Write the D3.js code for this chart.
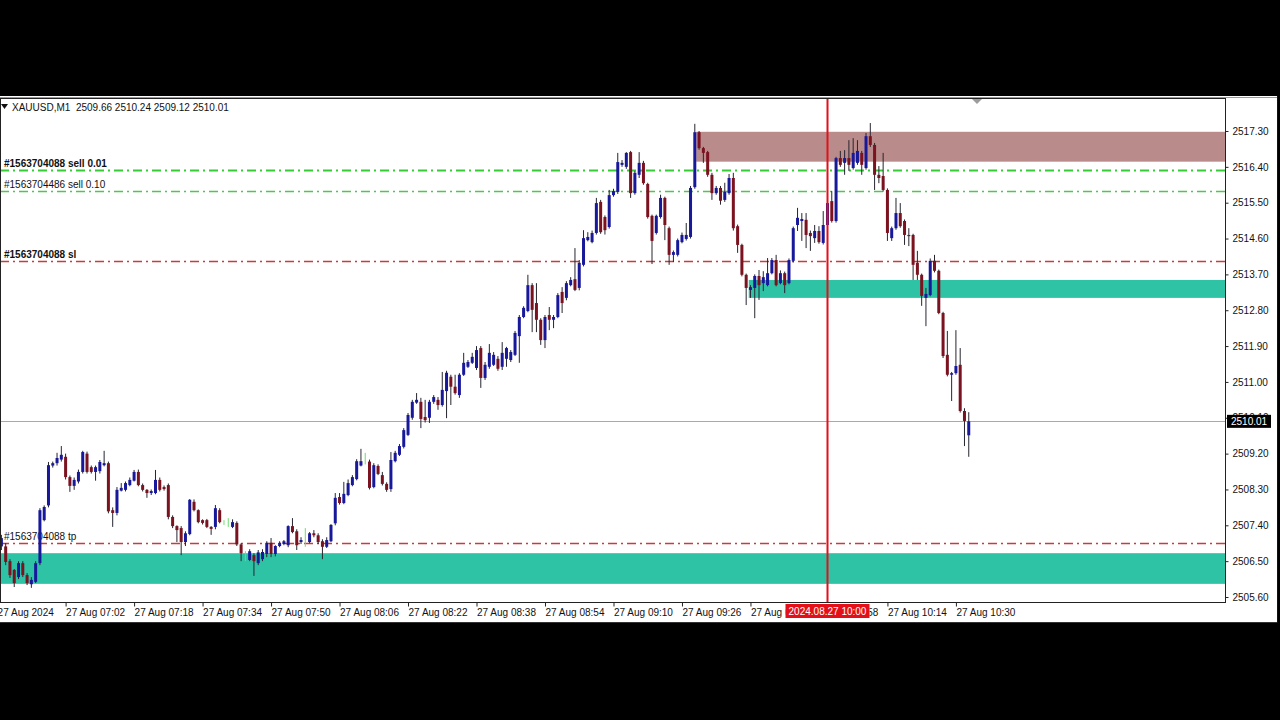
<!DOCTYPE html>
<html><head><meta charset="utf-8">
<script src="https://cdn.jsdelivr.net/npm/d3@7"></script>
<style>html,body{margin:0;padding:0;background:#000;overflow:hidden}svg{display:block}</style>
</head><body><svg id="c" width="1280" height="720"></svg>
<script>
// ---------- DATA ----------
const symbolName = "XAUUSD,M1";
const lastBar = [2509.66, 2510.24, 2509.12, 2510.01]; // O H L C shown in header
const chartDay = "2024-08-27";
const firstBarTime = "06:47";
const opens = [
2506.87,2506.87,2506.50,2506.28,2506.10,2506.45,2506.15,2505.92,2505.98,2506.45,
2507.53,2507.90,2508.90,2508.96,2509.05,2509.12,2508.61,2508.39,2508.50,2508.74,
2509.20,2508.86,2508.74,2508.76,2508.91,2508.96,2507.78,2507.71,2508.27,2508.29,
2508.41,2508.52,2508.74,2508.41,2508.29,2508.21,2508.21,2508.54,2508.36,2508.41,
2507.61,2507.38,2507.33,2506.98,2507.18,2507.99,2507.78,2507.53,2507.53,2507.36,
2507.36,2507.78,2507.48,2507.48,2507.36,2507.46,2506.92,2506.65,2506.53,2506.65,
2506.45,2506.55,2506.68,2506.96,2506.68,2506.88,2506.93,2506.90,2507.38,2507.25,
2506.98,2507.10,2506.98,2507.20,2507.15,2507.00,2506.86,2507.00,2507.45,2508.11,
2507.96,2508.16,2508.41,2508.56,2508.90,2509.00,2509.00,2508.36,2508.89,2508.66,
2508.44,2508.31,2509.01,2509.17,2509.37,2509.67,2510.10,2510.48,2510.50,2510.12,
2510.10,2510.50,2510.55,2510.42,2510.77,2511.13,2510.88,2510.67,2511.18,2511.38,
2511.48,2511.35,2511.85,2511.10,2511.38,2511.43,2511.58,2511.38,2511.58,2511.55,
2511.68,2512.15,2512.63,2512.78,2513.43,2512.98,2512.56,2512.05,2512.68,2512.56,
2512.63,2513.26,2513.11,2513.43,2513.58,2513.36,2513.94,2514.56,2514.51,2514.74,
2515.52,2515.14,2514.89,2515.69,2515.77,2516.45,2516.40,2516.77,2515.74,2516.20,
2516.50,2515.97,2515.17,2514.74,2515.14,2515.62,2514.86,2514.19,2514.19,2514.51,
2514.59,2514.64,2515.89,2517.27,2516.87,2516.77,2516.20,2515.74,2515.87,2515.57,
2515.74,2516.12,2514.91,2514.44,2513.69,2513.31,2513.36,2513.66,2513.48,2513.43,
2513.73,2514.06,2513.48,2513.73,2513.48,2514.04,2514.94,2515.04,2515.07,2514.74,
2514.61,2514.79,2514.49,2514.94,2515.54,2515.04,2516.62,2516.50,2516.62,2516.37,
2516.50,2516.75,2516.37,2517.17,2516.95,2516.20,2516.17,2515.82,2514.61,2514.86,
2515.24,2515.04,2514.69,2514.69,2513.99,2513.69,2513.11,2513.18,2514.04,2513.79,
2512.73,2511.68,2511.18,2511.22,2511.43,2510.27,2509.66];
const highs = [
2507.16,2506.95,2506.55,2506.30,2506.50,2506.50,2506.20,2506.10,2506.50,2507.83,
2507.90,2508.99,2509.00,2509.22,2509.39,2509.20,2508.65,2508.60,2508.80,2509.27,
2509.25,2508.90,2508.90,2509.04,2509.27,2509.00,2507.85,2508.36,2508.46,2508.50,
2508.60,2508.79,2508.80,2508.45,2508.31,2508.30,2508.79,2508.60,2508.40,2508.45,
2507.65,2507.40,2507.38,2507.25,2508.06,2508.05,2507.80,2507.55,2507.56,2507.38,
2507.91,2507.83,2507.53,2507.58,2507.55,2507.50,2506.95,2506.75,2506.80,2506.70,
2506.78,2506.80,2507.00,2507.08,2506.90,2507.00,2507.03,2507.40,2507.58,2507.30,
2507.10,2507.33,2507.23,2507.28,2507.20,2507.05,2507.10,2507.43,2508.21,2508.21,
2508.49,2508.55,2508.66,2509.06,2509.32,2509.22,2509.05,2508.96,2508.93,2508.74,
2508.48,2509.24,2509.27,2509.44,2509.84,2510.22,2510.55,2510.72,2510.60,2510.55,
2510.55,2510.67,2510.62,2511.25,2511.28,2511.18,2511.18,2511.22,2511.73,2511.55,
2511.73,2511.90,2511.90,2511.50,2511.95,2511.75,2511.65,2512.00,2511.88,2511.80,
2512.28,2512.68,2512.90,2513.69,2513.48,2513.48,2512.60,2512.68,2512.88,2512.68,
2513.23,2513.38,2513.53,2513.63,2514.36,2514.06,2514.81,2514.76,2514.80,2515.62,
2515.57,2515.18,2515.82,2515.85,2516.75,2516.57,2516.77,2516.80,2516.30,2516.77,
2516.55,2516.00,2515.20,2515.20,2515.70,2515.65,2514.90,2514.30,2514.60,2514.75,
2514.99,2515.92,2517.48,2517.30,2516.90,2516.80,2516.25,2515.92,2515.92,2516.00,
2516.22,2516.25,2514.95,2514.47,2513.72,2513.43,2513.70,2513.81,2513.78,2514.11,
2514.11,2514.19,2513.80,2513.77,2514.10,2514.90,2515.37,2515.24,2515.24,2514.80,
2514.94,2514.91,2515.29,2515.55,2515.79,2516.65,2516.80,2516.82,2517.07,2517.12,
2517.07,2516.80,2517.25,2517.50,2517.00,2516.42,2516.75,2515.86,2514.90,2515.62,
2515.49,2515.08,2514.86,2514.72,2514.29,2513.72,2513.36,2514.10,2514.19,2513.82,
2512.76,2512.28,2511.25,2512.30,2511.85,2510.34,2510.24];
const lows = [
2506.78,2506.40,2506.08,2505.85,2506.05,2506.10,2505.90,2505.83,2505.95,2506.40,
2507.50,2507.85,2508.85,2508.90,2509.00,2508.55,2508.24,2508.29,2508.45,2508.70,
2508.70,2508.70,2508.52,2508.70,2508.88,2507.70,2507.36,2507.65,2508.25,2508.25,
2508.38,2508.50,2508.38,2508.25,2508.09,2508.16,2508.18,2508.25,2508.27,2507.55,
2507.33,2506.98,2506.65,2506.88,2507.15,2507.75,2507.45,2507.42,2507.33,2507.16,
2507.30,2507.45,2507.41,2507.36,2507.33,2506.88,2506.50,2506.50,2506.50,2506.13,
2506.40,2506.50,2506.60,2506.60,2506.62,2506.85,2506.90,2506.85,2507.20,2506.78,
2506.93,2506.86,2506.95,2507.10,2506.93,2506.55,2506.83,2506.98,2507.40,2507.92,
2507.93,2508.13,2508.38,2508.53,2508.88,2508.93,2508.30,2508.33,2508.66,2508.40,
2508.24,2508.24,2508.98,2509.14,2509.33,2509.64,2510.05,2510.45,2509.84,2509.98,
2509.97,2510.45,2510.30,2510.38,2510.09,2510.42,2510.68,2510.60,2511.15,2511.35,
2511.45,2511.30,2510.85,2511.05,2511.33,2511.40,2511.28,2511.30,2511.38,2511.50,
2511.65,2511.48,2512.60,2512.75,2512.25,2512.25,2511.93,2511.85,2512.30,2512.35,
2512.60,2512.73,2513.05,2513.40,2513.28,2513.30,2513.90,2514.53,2514.48,2514.70,
2514.72,2514.70,2514.85,2515.65,2515.72,2516.40,2516.35,2515.62,2515.70,2516.12,
2515.95,2515.10,2513.96,2514.70,2515.10,2514.56,2513.94,2514.01,2514.15,2514.48,
2514.55,2514.60,2515.85,2516.83,2516.50,2516.15,2515.57,2515.70,2515.45,2515.52,
2515.70,2514.80,2514.24,2513.65,2512.93,2513.11,2512.60,2513.06,2513.28,2513.40,
2513.70,2513.40,2513.45,2513.23,2513.45,2514.00,2514.79,2514.54,2514.36,2514.29,
2514.49,2514.47,2514.45,2514.90,2515.00,2515.00,2516.40,2516.20,2516.30,2516.33,
2516.45,2516.20,2516.33,2516.90,2515.82,2515.99,2515.78,2514.54,2514.54,2514.82,
2514.87,2514.44,2514.41,2513.56,2513.56,2512.91,2512.40,2513.15,2513.75,2512.70,
2511.60,2511.14,2510.52,2511.18,2510.23,2509.39,2509.12];
const closes = [
2507.08,2506.48,2506.15,2505.95,2506.45,2506.15,2505.95,2506.03,2506.45,2507.78,
2507.86,2508.91,2508.96,2509.09,2509.17,2508.61,2508.39,2508.54,2508.74,2509.24,
2508.74,2508.74,2508.86,2508.99,2508.96,2507.75,2507.71,2508.29,2508.34,2508.46,
2508.54,2508.74,2508.41,2508.29,2508.21,2508.26,2508.54,2508.29,2508.31,2507.61,
2507.38,2507.28,2506.98,2507.20,2508.04,2507.78,2507.48,2507.46,2507.36,2507.31,
2507.83,2507.48,2507.48,2507.48,2507.48,2506.92,2506.70,2506.65,2506.75,2506.50,
2506.72,2506.73,2506.96,2506.68,2506.88,2506.96,2507.00,2507.38,2507.23,2506.90,
2507.03,2507.10,2507.20,2507.15,2506.98,2506.86,2507.03,2507.41,2508.09,2507.96,
2508.19,2508.46,2508.61,2509.01,2509.01,2509.00,2508.34,2508.91,2508.69,2508.44,
2508.29,2509.04,2509.22,2509.39,2509.79,2510.17,2510.50,2510.55,2510.07,2510.04,
2510.50,2510.62,2510.42,2510.80,2511.23,2510.88,2510.72,2511.18,2511.48,2511.50,
2511.63,2511.80,2511.10,2511.43,2511.73,2511.68,2511.33,2511.73,2511.85,2511.75,
2512.23,2512.63,2512.86,2513.43,2512.81,2512.56,2512.05,2512.63,2512.56,2512.63,
2513.18,2512.98,2513.48,2513.56,2513.31,2513.99,2514.61,2514.64,2514.74,2515.49,
2514.76,2514.81,2515.69,2515.79,2516.52,2516.50,2516.75,2515.74,2516.25,2516.50,
2515.99,2515.14,2514.54,2515.17,2515.62,2514.94,2514.19,2514.26,2514.56,2514.69,
2514.69,2515.87,2517.27,2516.87,2516.75,2516.20,2515.74,2515.87,2515.55,2515.77,
2516.12,2514.86,2514.44,2513.69,2513.36,2513.38,2513.66,2513.43,2513.63,2513.73,
2514.06,2513.43,2513.73,2513.43,2514.06,2514.86,2515.12,2515.09,2514.69,2514.66,
2514.79,2514.51,2514.94,2515.49,2515.04,2516.62,2516.45,2516.62,2516.45,2516.75,
2516.80,2516.45,2517.17,2516.95,2516.20,2516.12,2515.82,2514.74,2514.86,2515.24,
2514.91,2514.69,2514.66,2513.94,2513.69,2513.16,2513.21,2514.04,2513.79,2512.73,
2511.65,2511.18,2511.22,2511.40,2510.27,2510.02,2510.01];

const priceTicks = [2517.30,2516.40,2515.50,2514.60,2513.70,2512.80,2511.90,2511.00,2510.10,2509.20,2508.30,2507.40,2506.50,2505.60];
const timeTicks = ["06:46","07:02","07:18","07:34","07:50","08:06","08:22","08:38","08:54","09:10","09:26","09:42","09:58","10:14","10:30"];
const timeTickLabels = ["27 Aug 2024","27 Aug 07:02","27 Aug 07:18","27 Aug 07:34","27 Aug 07:50","27 Aug 08:06","27 Aug 08:22","27 Aug 08:38","27 Aug 08:54","27 Aug 09:10","27 Aug 09:26","27 Aug 09:42","27 Aug 09:58","27 Aug 10:14","27 Aug 10:30"];

const levelNames  = ["#1563704088 sell 0.01","#1563704486 sell 0.10","#1563704088 sl","#1563704088 tp"];
const levelPrices = [2516.33, 2515.80, 2514.04, 2506.96];
const levelKinds  = ["entry","entry","stop","stop"];
const levelBold   = [true, false, true, false];

const zoneTop    = [2517.28, 2513.56, 2506.70];
const zoneBottom = [2516.53, 2513.11, 2505.93];
const zoneStart  = ["09:29:20", "09:41:36", "06:40:00"];
const zoneKinds  = ["supply", "demand", "demand"];

const currentPrice = 2510.01;
const vLineTime = "10:00";
const vLineLabel = "2024.08.27 10:00";

// ---------- LAYOUT ----------
const W = 1280, H = 720;
const plotL = 0, plotR = 1225, plotT = 98, plotB = 602;
const font = "'Liberation Sans', Arial, sans-serif";
const colBull = "#18199a", colBear = "#7a1220", colWick = "#262630", colDoji = "#6edc6e";
const colSupply = "#b98b8b", colDemand = "#2ec3a5";

const parseT = d3.timeParse("%Y-%m-%dT%H:%M:%S");
const T = s => parseT(chartDay + "T" + (s.length === 5 ? s + ":00" : s));
const t0 = T(firstBarTime);
const barTimes = opens.map((_, i) => d3.timeMinute.offset(t0, i));

const x = d3.scaleTime().domain([t0, T("10:00")]).range([1.4, 827.5]);
const y = d3.scaleLinear().domain([2505.60, 2517.30]).range([597, 131]);

const svg = d3.select("#c");
svg.append("rect").attr("width", W).attr("height", H).attr("fill", "#000");
svg.append("rect").attr("x", 0).attr("y", 96).attr("width", 1277).attr("height", 527).attr("fill", "#fff");
svg.append("line").attr("x1", 0).attr("x2", 1277).attr("y1", 97.5).attr("y2", 97.5).attr("stroke", "#9a9a9a");

const defs = svg.append("defs");
defs.append("clipPath").attr("id", "plot")
  .append("rect").attr("x", plotL).attr("y", plotT).attr("width", plotR - plotL).attr("height", plotB - plotT);
const g = svg.append("g").attr("clip-path", "url(#plot)");

// zones
g.selectAll("rect.zone").data(zoneTop).join("rect").attr("class", "zone")
  .attr("x", (d, i) => x(T(zoneStart[i])))
  .attr("width", (d, i) => plotR - x(T(zoneStart[i])))
  .attr("y", d => y(d))
  .attr("height", (d, i) => y(zoneBottom[i]) - y(d))
  .attr("fill", (d, i) => zoneKinds[i] === "supply" ? colSupply : colDemand);

// order levels
g.selectAll("line.lvl").data(levelPrices).join("line").attr("class", "lvl")
  .attr("x1", plotL).attr("x2", plotR)
  .attr("y1", d => Math.round(y(d)) + 0.5).attr("y2", d => Math.round(y(d)) + 0.5)
  .attr("stroke", (d, i) => levelKinds[i] === "entry" ? (i === 0 ? "#36cc36" : "#4cc84c") : "#cc3a3a")
  .attr("stroke-width", (d, i) => i === 0 ? 2 : 1.4)
  .attr("stroke-dasharray", "9,4,2,4");

g.selectAll("text.lvl").data(levelNames).join("text").attr("class", "lvl")
  .attr("x", 4).attr("y", (d, i) => y(levelPrices[i]) - 3)
  .attr("font-family", font).attr("font-size", 10)
  .attr("font-weight", (d, i) => levelBold[i] ? "bold" : "normal")
  .attr("fill", "#111").text(d => d);

// current price line
g.append("line").attr("x1", plotL).attr("x2", plotR)
  .attr("y1", Math.round(y(currentPrice)) + 0.5).attr("y2", Math.round(y(currentPrice)) + 0.5)
  .attr("stroke", "#a9a9a9").attr("stroke-width", 1);

// candles (bound to bar index so every attribute reads the same bar)
const idx = d3.range(opens.length);
const cg = g.append("g");
cg.selectAll("line.wick").data(idx).join("line").attr("class", "wick")
  .attr("x1", i => x(barTimes[i])).attr("x2", i => x(barTimes[i]))
  .attr("y1", i => y(Math.max(highs[i], opens[i], closes[i])))
  .attr("y2", i => y(Math.min(lows[i], opens[i], closes[i])))
  .attr("stroke", i => opens[i] === closes[i] ? colDoji : colWick).attr("stroke-width", 1);
cg.selectAll("rect.body").data(idx.filter(i => opens[i] !== closes[i])).join("rect").attr("class", "body")
  .attr("x", i => x(barTimes[i]) - 1.5).attr("width", 3)
  .attr("y", i => y(Math.max(opens[i], closes[i])))
  .attr("height", i => Math.max(1, Math.abs(y(opens[i]) - y(closes[i]))))
  .attr("fill", i => closes[i] > opens[i] ? colBull : colBear);

// vertical line
const vx = x(T(vLineTime));
g.append("line").attr("x1", vx).attr("x2", vx).attr("y1", plotT).attr("y2", plotB)
  .attr("stroke", "#e3101a").attr("stroke-width", 2);

// shift marker
svg.append("path").attr("d", "M971,98 L983,98 L977,104 Z").attr("fill", "#9c9c9c");

// frame
svg.append("rect").attr("x", plotL + 0.5).attr("y", plotT + 0.5)
  .attr("width", plotR - plotL).attr("height", plotB - plotT)
  .attr("fill", "none").attr("stroke", "#222");

// right price axis
const ay = svg.append("g").attr("transform", `translate(${plotR + 0.5},0)`)
  .call(d3.axisRight(y).tickValues(priceTicks).tickFormat(d3.format(".2f")).tickSize(3).tickPadding(4));
ay.select(".domain").remove();
ay.selectAll("text").attr("font-family", font).attr("font-size", 10).attr("fill", "#111");
ay.selectAll("line").attr("stroke", "#222");

// bottom time axis
const vlw = 84;
defs.append("clipPath").attr("id", "timeclip").selectAll("rect")
  .data([[0, vx - vlw / 2], [vx + vlw / 2, W]]).join("rect")
  .attr("x", d => d[0]).attr("y", 600).attr("width", d => d[1] - d[0]).attr("height", 24);
const ax = svg.append("g").attr("clip-path", "url(#timeclip)").append("g")
  .attr("transform", `translate(0,${plotB + 0.5})`)
  .call(d3.axisBottom(x).tickValues(timeTicks.map(T)).tickFormat((d, i) => timeTickLabels[i]).tickSize(4).tickPadding(2));
ax.select(".domain").remove();
ax.selectAll("text").attr("font-family", font).attr("font-size", 10).attr("fill", "#111")
  .attr("text-anchor", "start").attr("dx", 0);
ax.selectAll("line").attr("stroke", "#222");

// current price label box
svg.append("rect").attr("x", 1227).attr("y", y(currentPrice) - 6.5).attr("width", 44).attr("height", 13).attr("fill", "#000");
svg.append("text").attr("x", 1231).attr("y", y(currentPrice) + 4)
  .attr("font-family", font).attr("font-size", 10).attr("fill", "#fff").text(d3.format(".2f")(currentPrice));

// vertical line time label
svg.append("rect").attr("x", vx - vlw / 2).attr("y", 604).attr("width", vlw).attr("height", 14).attr("fill", "#e3101a");
svg.append("text").attr("x", vx).attr("y", 615).attr("text-anchor", "middle")
  .attr("font-family", font).attr("font-size", 10).attr("fill", "#fff").text(vLineLabel);

// bottom / right edges
svg.append("line").attr("x1", 0).attr("x2", 1277).attr("y1", 622.5).attr("y2", 622.5).attr("stroke", "#333");
svg.append("line").attr("x1", 1277.5).attr("x2", 1277.5).attr("y1", 96).attr("y2", 623).attr("stroke", "#111");

// header
svg.append("path").attr("d", "M1,104 L8,104 L4.5,109 Z").attr("fill", "#111");
svg.append("text").attr("x", 12).attr("y", 111).attr("font-family", font).attr("font-size", 10)
  .attr("fill", "#111").style("white-space", "pre")
  .text(symbolName + "  " + lastBar.map(d3.format(".2f")).join(" "));
</script></body></html>
